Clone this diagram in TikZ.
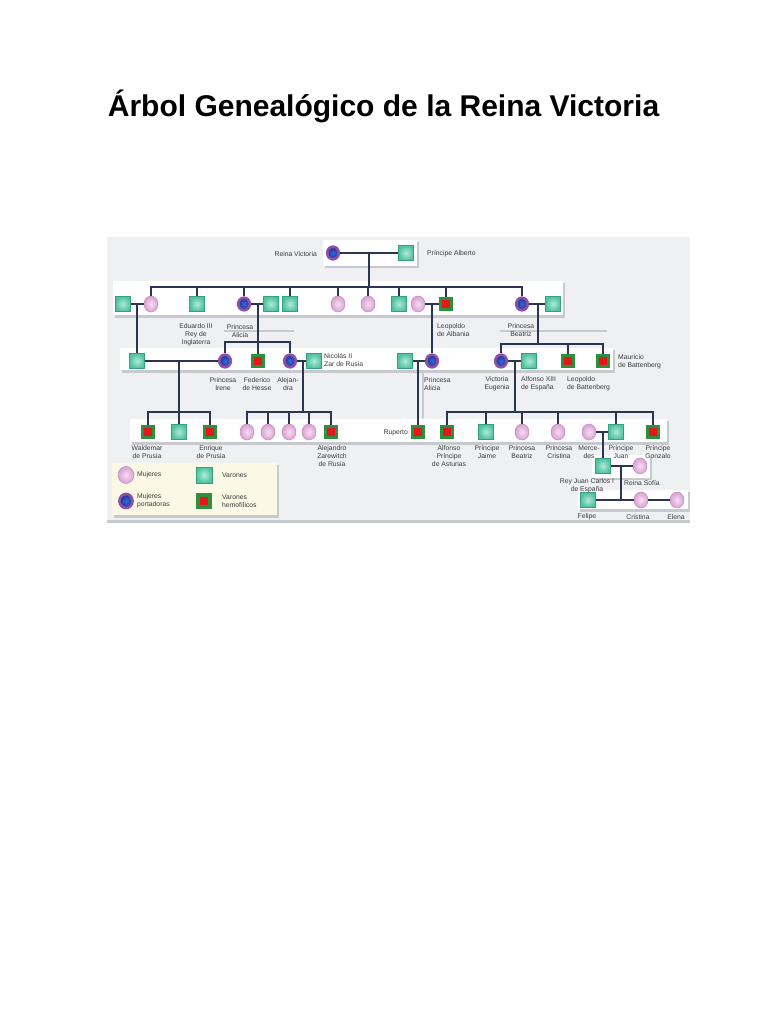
\documentclass[tikz,border=0pt]{standalone}
\usepackage{fontspec}
\setmainfont{Liberation Sans}
\usetikzlibrary{shapes.geometric}
\definecolor{bgc}{HTML}{EEF0F2}
\definecolor{shadow}{HTML}{C6CACE}
\definecolor{navy}{HTML}{2B3452}
\definecolor{femin}{HTML}{F6DCF2}
\definecolor{femout}{HTML}{D9A2D2}
\definecolor{femedge}{HTML}{C28ABB}
\definecolor{carring}{HTML}{8E4FA6}
\definecolor{carin}{HTML}{3A66D8}
\definecolor{carout}{HTML}{1A3496}
\definecolor{malin}{HTML}{B2E8D8}
\definecolor{malout}{HTML}{4FC39E}
\definecolor{maledge}{HTML}{35A07F}
\definecolor{hemgreen}{HTML}{2F8F3C}
\definecolor{hemred}{HTML}{E3171C}
\definecolor{lblgray}{HTML}{3A3A3A}
\definecolor{cream}{HTML}{FBF9E6}
\begin{document}
\begin{tikzpicture}[x=1pt,y=-1pt,
  rel/.style={draw=navy,line width=2.3pt},
  fem/.style={ellipse,minimum width=14pt,minimum height=16pt,inner sep=0pt,draw=femedge,line width=0.5pt,inner color=femin,outer color=femout},
  car/.style={ellipse,minimum width=11.5pt,minimum height=12.5pt,inner sep=0pt,draw=carring,line width=2.7pt,inner color=carin,outer color=carout},
  mal/.style={rectangle,minimum size=15pt,inner sep=0pt,draw=maledge,line width=0.5pt,inner color=malin,outer color=malout},
  hem/.style={rectangle,minimum size=11.5pt,inner sep=0pt,draw=hemgreen,line width=3.2pt,fill=hemred},
  lbl/.style={font=\fontsize{6.8}{8}\selectfont,text=lblgray,align=center,inner sep=0pt},
  shad/.style={draw=shadow,line width=1.5pt},
]
\useasboundingbox (0,0) rectangle (768,1024);
\fill[white] (0,0) rectangle (768,1024);
\node[anchor=base,font=\fontsize{30}{34}\selectfont\bfseries,inner sep=0pt] (title) at (383.5,117) {Árbol Genealógico de la Reina Victoria};

% background and bands
\fill[bgc] (107,237) rectangle (690,523);
\fill[shadow] (107,520) rectangle (690,523);
\fill[shadow] (325,242) rectangle (419,268);
\fill[white] (323,240) rectangle (417,266);
\fill[shadow] (115,283) rectangle (565,318);
\fill[white] (113,281) rectangle (563,315);
\fill[shadow] (122,350) rectangle (615,373);
\fill[white] (120,348) rectangle (613,370);
\fill[shadow] (132,421) rectangle (669,445);
\fill[white] (130,419) rectangle (667,442);
\fill[shadow] (594,457) rectangle (652,480);
\fill[white] (592,455) rectangle (650,478);
\fill[shadow] (580,492) rectangle (690,512);
\fill[white] (578,490) rectangle (688,509);
\draw[shad] (224,331) -- (294,331);
\draw[shad] (500,331) -- (607,331);
\draw[shad] (423,373) -- (423,419);
% legend box
\fill[shadow] (114,465) rectangle (279,518);
\fill[cream] (112,463) rectangle (277,515);

% row 0
\node[car] (victoria) at (333,253) {};
\node[mal] (alberto) at (406,253) {};
\node[lbl,anchor=east] (lvic) at (317,254) {Reina Victoria};
\node[lbl,anchor=west] (lalb) at (427,254) {Príncipe Alberto};

% row 1
\node[mal] (fed3) at (123,304) {};
\node[fem] (vicky) at (151,304) {};
\node[mal] (eduardo) at (197,304) {};
\node[car] (alicia) at (244,304) {};
\node[mal] (luis) at (271,304) {};
\node[mal] (alfredo) at (290,304) {};
\node[fem] (helena) at (338,304) {};
\node[fem] (luisa) at (368,304) {};
\node[mal] (arturo) at (399,304) {};
\node[fem] (helenaw) at (418,304) {};
\node[hem] (leopoldo) at (446,304) {};
\node[car] (beatriz) at (522,304) {};
\node[mal] (enriqueb) at (553,304) {};
\node[lbl] (leduardo) at (196,335) {Eduardo III\\Rey de\\Inglaterra};
\node[lbl] (lalicia) at (240,331) {Princesa\\Alicia};
\node[lbl,anchor=west,align=left] (lleopoldo) at (437,330) {Leopoldo\\de Albania};
\node[lbl] (lbeatriz) at (521,330) {Princesa\\Beatriz};

% row 2
\node[mal] (heinrich) at (137,361) {};
\node[car] (irene) at (225,361) {};
\node[hem] (federico) at (258,361) {};
\node[car] (alejandra) at (290,361) {};
\node[mal] (nicolas) at (314,361) {};
\node[mal] (alexcam) at (405,361) {};
\node[car] (alicia2) at (432,361) {};
\node[car] (vicena) at (501,361) {};
\node[mal] (alfonso13) at (529,361) {};
\node[hem] (leopoldob) at (568,361) {};
\node[hem] (mauricio) at (603,361) {};
\node[lbl] (lirene) at (223,384) {Princesa\\Irene};
\node[lbl] (lfederico) at (257,384) {Federico\\de Hesse};
\node[lbl] (lalejandra) at (288,384) {Alejan-\\dra};
\node[lbl,anchor=west,align=left] (lnicolas) at (324,360) {Nicolás II\\Zar de Rusia};
\node[lbl,anchor=west,align=left] (lalicia2) at (424,384) {Princesa\\Alicia};
\node[lbl] (lvicena) at (497,384) {Victoria\\Eugenia};
\node[lbl,anchor=west,align=left] (lalfonso13) at (521,384) {Alfonso XIII\\de España};
\node[lbl,anchor=west,align=left] (lleopoldob) at (567,384) {Leopoldo\\de Battenberg};
\node[lbl,anchor=west,align=left] (lmauricio) at (618,362) {Mauricio\\de Battenberg};

% row 3
\node[hem] (waldemar) at (148,432) {};
\node[mal] (sigis) at (179,432) {};
\node[hem] (enriquep) at (210,432) {};
\node[fem] (olga) at (247,432) {};
\node[fem] (tatiana) at (268,432) {};
\node[fem] (maria) at (289,432) {};
\node[fem] (anastasia) at (309,432) {};
\node[hem] (alexei) at (331,432) {};
\node[hem] (ruperto) at (418,432) {};
\node[hem] (alfonsoa) at (447,432) {};
\node[mal] (jaime) at (486,432) {};
\node[fem] (beatriz2) at (522,432) {};
\node[fem] (cristina) at (558,432) {};
\node[fem] (mercedes) at (589,432) {};
\node[mal] (juan) at (616,432) {};
\node[hem] (gonzalo) at (653,432) {};
\node[lbl] (lwaldemar) at (147,452) {Waldemar\\de Prusia};
\node[lbl] (lenriquep) at (211,452) {Enrique\\de Prusia};
\node[lbl] (lalexei) at (332,456) {Alejandro\\Zarewitch\\de Rusia};
\node[lbl,anchor=east] (lruperto) at (408,433) {Ruperto};
\node[lbl] (lalfonsoa) at (449,456) {Alfonso\\Príncipe\\de Asturias};
\node[lbl] (ljaime) at (487,452) {Príncipe\\Jaime};
\node[lbl] (lbeatriz2) at (522,452) {Princesa\\Beatriz};
\node[lbl] (lcristina) at (559,452) {Princesa\\Cristina};
\node[lbl] (lmercedes) at (589,452) {Merce-\\des};
\node[lbl] (ljuan) at (621,452) {Príncipe\\Juan};
\node[lbl] (lgonzalo) at (658,452) {Príncipe\\Gonzalo};

% row 4 / 5
\node[mal] (juancarlos) at (603,466) {};
\node[fem] (sofia) at (640,466) {};
\node[mal] (felipe) at (588,500) {};
\node[fem] (cristina2) at (641,500) {};
\node[fem] (elena) at (677,500) {};
\node[lbl] (ljuancarlos) at (587,486) {Rey Juan Carlos I\\de España};
\node[lbl] (lsofia) at (642,483) {Reina Sofía};
\node[lbl] (lfelipe) at (587,517) {Felipe};
\node[lbl] (lcristina2) at (638,517) {Cristina};
\node[lbl] (lelena) at (676,517) {Elena};

% legend
\node[fem,minimum width=16pt,minimum height=17pt] (kfem) at (126,475) {};
\node[car,minimum width=13pt,minimum height=14pt] (kcar) at (126,501) {};
\node[mal,minimum size=16pt] (kmal) at (204,475) {};
\node[hem,minimum size=12pt] (khem) at (204,501) {};
\node[lbl,anchor=west,align=left] (lkfem) at (137,475) {Mujeres};
\node[lbl,anchor=west,align=left] (lkcar) at (137,501) {Mujeres\\portadoras};
\node[lbl,anchor=west,align=left] (lkmal) at (222,475) {Varones};
\node[lbl,anchor=west,align=left] (lkhem) at (222,501) {Varones\\hemofílicos};

% junctions
\coordinate (m0) at (369,253);
\coordinate (b1) at (369,287);
\coordinate (m1) at (137,304);
\coordinate (m2) at (258,304);
\coordinate (b2a) at (258,342);
\coordinate (m3) at (432,304);
\coordinate (m4) at (538,304);
\coordinate (b2b) at (538,344);
\coordinate (m5) at (179,361);
\coordinate (b3a) at (179,412);
\coordinate (m6) at (303,361);
\coordinate (b3b) at (303,412);
\coordinate (m7) at (418,361);
\coordinate (m8) at (515,361);
\coordinate (b3c) at (515,412);
\coordinate (m9) at (603,432);
\coordinate (m10) at (621,466);
\coordinate (b4) at (621,500);

% connectors
\draw[rel] (victoria) -- (alberto);
\draw[rel] (m0) -- (b1);
\draw[rel] (vicky) |- (b1) -| (beatriz);
\foreach \c in {eduardo,alicia,alfredo,helena,luisa,arturo,leopoldo} \draw[rel] (\c) -- (\c |- b1);

\draw[rel] (fed3) -- (vicky);
\draw[rel] (m1) -- (heinrich);
\draw[rel] (alicia) -- (luis);
\draw[rel] (m2) -- (federico);
\draw[rel] (irene) |- (b2a) -| (alejandra);
\draw[rel] (helenaw) -- (leopoldo);
\draw[rel] (m3) -- (alicia2);
\draw[rel] (beatriz) -- (enriqueb);
\draw[rel] (m4) -- (b2b);
\draw[rel] (vicena) |- (b2b) -| (mauricio);
\draw[rel] (leopoldob) -- (leopoldob |- b2b);

\draw[rel] (heinrich) -- (irene);
\draw[rel] (m5) -- (sigis);
\draw[rel] (waldemar) |- (b3a) -| (enriquep);
\draw[rel] (alejandra) -- (nicolas);
\draw[rel] (m6) -- (b3b);
\draw[rel] (olga) |- (b3b) -| (alexei);
\foreach \c in {tatiana,maria,anastasia} \draw[rel] (\c) -- (\c |- b3b);
\draw[rel] (alexcam) -- (alicia2);
\draw[rel] (m7) -- (ruperto);
\draw[rel] (vicena) -- (alfonso13);
\draw[rel] (m8) -- (b3c);
\draw[rel] (alfonsoa) |- (b3c) -| (gonzalo);
\foreach \c in {jaime,beatriz2,cristina,juan} \draw[rel] (\c) -- (\c |- b3c);

\draw[rel] (mercedes) -- (juan);
\draw[rel] (m9) -- (juancarlos);
\draw[rel] (juancarlos) -- (sofia);
\draw[rel] (m10) -- (b4);
\draw[rel] (felipe) -- (cristina2);
\draw[rel] (cristina2) -- (elena);
\end{tikzpicture}
\end{document}
